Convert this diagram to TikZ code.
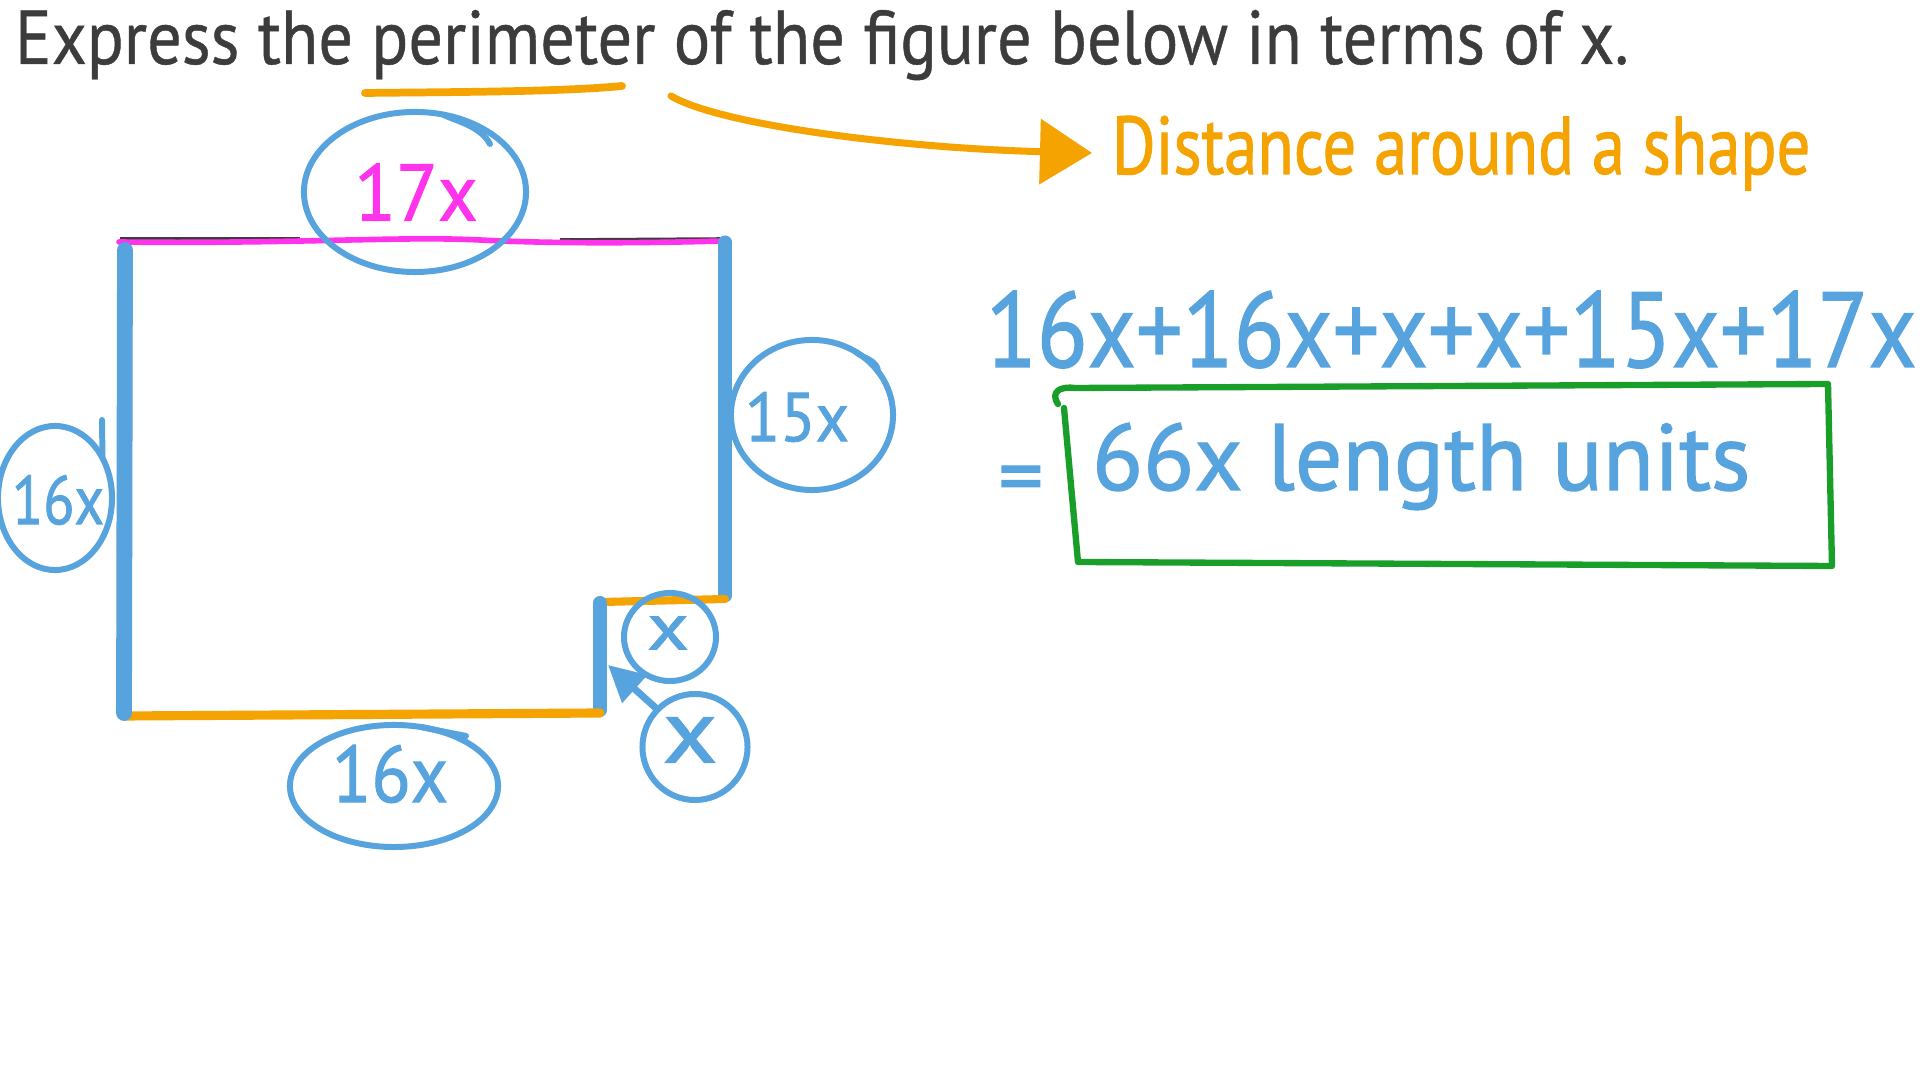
\documentclass[tikz,border=0pt]{standalone}
\usepackage{fontspec}
\setmainfont{PT Sans}
\newfontfamily\hand[FakeBold=1.3]{PT Sans}
\newfontfamily\handl[FakeBold=0.6]{PT Sans}
\usetikzlibrary{shapes.geometric,arrows.meta}
\definecolor{pblue}{RGB}{87,163,221}
\definecolor{porange}{RGB}{245,163,0}
\definecolor{pmag}{RGB}{255,51,235}
\definecolor{pgreen}{RGB}{26,158,42}
\definecolor{pdark}{RGB}{60,60,60}
\newcommand{\rs}[3]{\resizebox{#1cm}{#2cm}{#3}}
\begin{document}
\begin{tikzpicture}[x=0.01cm,y=-0.01cm,
  lbl/.style={inner sep=0pt, outer sep=0pt},
  ring/.style={draw=pblue, line width=1.7pt, ellipse, inner sep=0pt, outer sep=0pt},
  hook/.style={draw=pblue, line width=1.7pt, line cap=round},
  bedge/.style={draw=pblue, line cap=round},
  oedge/.style={draw=porange, line cap=round},
  ]
\useasboundingbox (0,0) rectangle (1920,1080);
\fill[white] (0,0) rectangle (1920,1080);

% title
\node[lbl, anchor=base west, text=pdark] (title) at (15,64)
  {\handl\rs{16.13}{0.54}{Express the perimeter of the figure below in terms of x.}};
\coordinate (ul1) at (365,93);
\coordinate (ul2) at (622,86);
\draw[porange, line width=2.2pt, line cap=round] (ul1) .. controls (450,92) and (560,92) .. (ul2);

% definition
\node[lbl, anchor=base west, text=porange] (dist) at (1112,174)
  {\hand\rs{6.98}{0.58}{Distance around a shape}};
\coordinate (as) at (671,96);
\coordinate (at) at (1092,153);
\draw[porange, line width=2pt, line cap=round,
  -{Triangle[length=0.52cm, width=0.64cm]}]
  (as) .. controls (720,125) and (900,148) .. (at);

% figure outline
\coordinate (TL) at (119,242);
\coordinate (TR) at (722,241);
\draw[pdark, line width=1pt] (120,239) -- (300,239);
\draw[pdark, line width=1pt] (560,240) -- (720,239);
\draw[pmag, line width=1.6pt, line cap=round] (TL) .. controls (300,244) and (400,236) .. (480,240)
   .. controls (560,244) and (650,243) .. (TR);
\draw[bedge, line width=3.7pt] (725,242) -- (725,596);
\draw[oedge, line width=2.3pt] (603,602) -- (725,599);
\draw[bedge, line width=4pt] (600,603) -- (600,710);
\draw[oedge, line width=2.6pt] (125,716) -- (600,713);
\draw[bedge, line width=4.5pt] (125,250) -- (124,713);

% labels
\node[ring, minimum width=2.22cm, minimum height=1.60cm] (c17) at (415,192) {};
\node[lbl, text=pmag] (t17) at (416,192) {\hand\rs{1.23}{0.57}{17x}};
\draw[hook] (c17.70) .. controls (452,120) and (480,125) .. (490,144);

\node[ring, minimum width=1.14cm, minimum height=1.44cm] (c16l) at (55,498) {};
\node[lbl, text=pblue] (t16l) at (58,500) {\hand\rs{0.92}{0.49}{16x}};
\draw[hook] (c16l.40) -- (102,420);

\node[ring, minimum width=1.62cm, minimum height=1.50cm] (c15) at (812,415) {};
\node[lbl, text=pblue] (t15) at (797,417) {\hand\rs{1.04}{0.49}{15x}};
\draw[hook] (c15.55) .. controls (862,358) and (878,360) .. (878,372);

\node[ring, minimum width=0.92cm, minimum height=0.88cm] (cxa) at (670,637) {};
\node[lbl, text=pblue] (txa) at (668,633) {\hand\rs{0.42}{0.33}{x}};

\node[ring, minimum width=1.05cm, minimum height=1.06cm] (cxb) at (695,747) {};
\node[lbl, text=pblue] (txb) at (690,740) {\hand\rs{0.55}{0.45}{x}};
\coordinate (xtip) at (608,665);
\draw[pblue, line width=2pt, -{Triangle[length=0.36cm, width=0.36cm]}] (cxb.135) -- (xtip);

\node[ring, minimum width=2.08cm, minimum height=1.22cm] (c16b) at (394,786) {};
\node[lbl, text=pblue] (t16b) at (390,774) {\hand\rs{1.16}{0.57}{16x}};
\draw[hook] (c16b.65) -- (466,736);

% working
\node[lbl, anchor=base west, text=pblue] (eq) at (986,367)
  {\hand\rs{9.30}{0.76}{16x+16x+x+x+15x+17x}};
\node[lbl, text=pblue] (eqs) at (1021,486) {\hand\rs{0.45}{0.40}{=}};
\node[lbl, anchor=base west, text=pblue] (ans) at (1092,490)
  {\hand\rs{6.58}{0.67}{66x length units}};
\draw[pgreen, line width=1.8pt, line join=round, line cap=round]
  (1058,404) .. controls (1050,392) and (1060,386) .. (1075,388)
  -- (1828,384) -- (1832,566) -- (1078,562) -- (1064,408);
\end{tikzpicture}
\end{document}
